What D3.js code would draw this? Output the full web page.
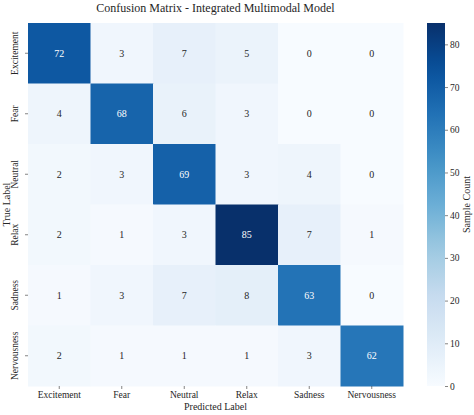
<!DOCTYPE html>
<html><head><meta charset="utf-8">
<script src="https://cdn.jsdelivr.net/npm/d3@7"></script>
<style>body{margin:0;background:#fff}svg{display:block}svg text{font-family:"Liberation Serif","Times New Roman",serif !important}</style>
</head><body><svg id="c" width="474" height="415"></svg>
<script>
const labels = ["Excitement","Fear","Neutral","Relax","Sadness","Nervousness"];
const row0 = [72,3,7,5,0,0];
const row1 = [4,68,6,3,0,0];
const row2 = [2,3,69,3,4,0];
const row3 = [2,1,3,85,7,1];
const row4 = [1,3,7,8,63,0];
const row5 = [2,1,1,1,3,62];
const matrix = [row0,row1,row2,row3,row4,row5];
const cbTicks = [0,10,20,30,40,50,60,70,80];
const title = "Confusion Matrix - Integrated Multimodal Model";

const svg = d3.select("#c");
const L=28,R=403,T=23,B=386;
const x = d3.scaleBand().domain(labels).range([L,R]);
const y = d3.scaleBand().domain(labels).range([T,B]);
const vmax = d3.max(matrix.flat());
const blues = ["#f7fbff","#deebf7","#c6dbef","#9ecae1","#6baed6","#4292c6","#2171b5","#08519c","#08306b"];
const color = d3.scaleLinear().domain(blues.map((_,i)=>i/(blues.length-1)*vmax)).range(blues).interpolate(d3.interpolateRgb).clamp(true);

function lum(c){const r=d3.rgb(c);const f=v=>{v/=255;return v<=0.03928?v/12.92:Math.pow((v+0.055)/1.055,2.4)};return 0.2126*f(r.r)+0.7152*f(r.g)+0.0722*f(r.b);}

const cells=[];
matrix.forEach((row,i)=>row.forEach((v,j)=>cells.push({r:labels[i],c:labels[j],v})));
svg.append("g").selectAll("rect").data(cells).join("rect")
 .attr("x",d=>x(d.c)).attr("y",d=>y(d.r)).attr("width",x.bandwidth()+0.5).attr("height",y.bandwidth()+0.5)
 .attr("fill",d=>color(d.v));
svg.append("g").selectAll("text").data(cells).join("text")
 .attr("x",d=>x(d.c)+x.bandwidth()/2).attr("y",d=>y(d.r)+y.bandwidth()/2)
 .attr("text-anchor","middle").attr("dominant-baseline","central").attr("font-size",10)
 .attr("fill",d=>lum(color(d.v))>0.408?"#262626":"#ffffff").text(d=>d.v);

// x axis
const gx=svg.append("g").attr("transform",`translate(0,${B})`).call(d3.axisBottom(x).tickSize(3).tickPadding(2));
gx.attr("font-family",null).attr("font-size",null);
gx.select(".domain").remove();
gx.selectAll("line").attr("stroke","#333").attr("stroke-width",0.6);
gx.selectAll("text").attr("font-size",9.5).attr("fill","#262626");
// y axis
const gy=svg.append("g").attr("transform",`translate(${L},0)`).call(d3.axisLeft(y).tickSize(3).tickPadding(2));
gy.attr("font-family",null).attr("font-size",null);
gy.select(".domain").remove();
gy.selectAll("line").attr("stroke","#333").attr("stroke-width",0.6);
gy.selectAll("text").attr("font-size",9.5).attr("fill","#262626")
 .attr("text-anchor","middle").attr("dy",null).attr("x",null)
 .attr("transform","translate(-10,0) rotate(-90)");

svg.append("text").attr("x",(L+R)/2).attr("y",12).attr("text-anchor","middle").attr("font-size",12).attr("fill","#262626").text(title);
svg.append("text").attr("x",(L+R)/2).attr("y",410).attr("text-anchor","middle").attr("font-size",10).attr("fill","#262626").text("Predicted Label");
svg.append("text").attr("transform",`translate(10,${(T+B)/2}) rotate(-90)`).attr("text-anchor","middle").attr("font-size",10).attr("fill","#262626").text("True Label");

// colorbar
const cbL=427,cbW=18;
const cy=d3.scaleLinear().domain([0,vmax]).range([B,T]);
const defs=svg.append("defs");
const grad=defs.append("linearGradient").attr("id","g").attr("x1",0).attr("y1",1).attr("x2",0).attr("y2",0);
d3.range(0,1.0001,0.05).forEach(t=>grad.append("stop").attr("offset",t).attr("stop-color",color(t*vmax)));
svg.append("rect").attr("x",cbL).attr("y",T).attr("width",cbW).attr("height",B-T).attr("fill","url(#g)");
const gc=svg.append("g").attr("transform",`translate(${cbL+cbW},0)`).call(d3.axisRight(cy).tickValues(cbTicks).tickSize(3).tickPadding(2));
gc.attr("font-family",null).attr("font-size",null);
gc.select(".domain").remove();
gc.selectAll("line").attr("stroke","#333").attr("stroke-width",0.6);
gc.selectAll("text").attr("font-size",9.5).attr("fill","#262626");
svg.append("text").attr("transform",`translate(470,${(T+B)/2}) rotate(-90)`).attr("text-anchor","middle").attr("font-size",10).attr("fill","#262626").text("Sample Count");
</script></body></html>
